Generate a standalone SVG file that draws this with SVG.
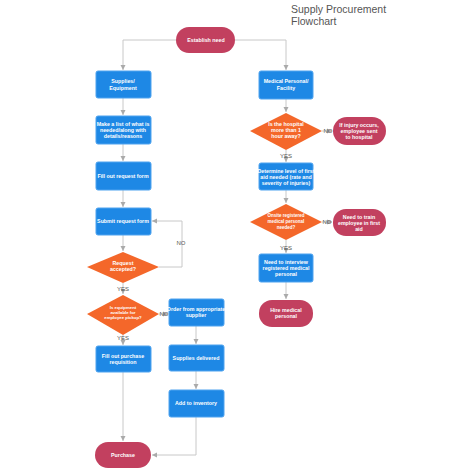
<svg xmlns="http://www.w3.org/2000/svg" width="474" height="474" viewBox="0 0 474 474">
<defs>
<marker id="a" markerWidth="6" markerHeight="6" refX="5" refY="3" orient="auto" markerUnits="userSpaceOnUse"><path d="M0,0.5 L5,3 L0,5.5 Z" fill="#aaa"/></marker>
<style>
.b{fill:#1e88e5;stroke:#4fa3ef;stroke-width:1}
.d{fill:#f4672a}
.t{fill:#c2405f}
.w{fill:#fff;font-family:"Liberation Sans",Arial,sans-serif;font-size:5.3px;text-anchor:middle;font-weight:bold}
.l{fill:#555;font-family:"Liberation Sans",Arial,sans-serif;font-size:6px;text-anchor:middle}
.c{fill:none;stroke:#c8c8c8;stroke-width:1;marker-end:url(#a)}
</style>
</defs>
<rect width="474" height="474" fill="#fff"/>
<text x="291" y="13" font-family="Liberation Sans,Arial,sans-serif" font-size="10.5" fill="#555">Supply Procurement</text>
<text x="291" y="25" font-family="Liberation Sans,Arial,sans-serif" font-size="10.5" fill="#555">Flowchart</text>
<g id="connectors">
<path class="c" d="M176,40 H123 V70"/>
<path class="c" d="M235,40 H286 V70"/>
<path class="c" d="M123,98 V115"/>
<path class="c" d="M123,144 V161"/>
<path class="c" d="M123,190 V207"/>
<path class="c" d="M123,235 V251"/>
<path class="c" d="M159,267 H182 V221 H152"/>
<path class="c" d="M123,283 V294"/>
<path class="c" d="M159,314 H168"/>
<path class="c" d="M123,335 V345"/>
<path class="c" d="M123,372 V441"/>
<path class="c" d="M196,326 V344"/>
<path class="c" d="M196,371 V389"/>
<path class="c" d="M196,417 V455 H152"/>
<path class="c" d="M286,99 V112"/>
<path class="c" d="M322,131 H332"/>
<path class="c" d="M286,150 V162"/>
<path class="c" d="M286,190 V203"/>
<path class="c" d="M322,222 H332"/>
<path class="c" d="M286,240 V253"/>
<path class="c" d="M286,282 V299"/>
<text class="l" x="181" y="245">NO</text>
<text class="l" x="123" y="291">YES</text>
<text class="l" x="164" y="316">NO</text>
<text class="l" x="123" y="340">YES</text>
<text class="l" x="328" y="133">NO</text>
<text class="l" x="286" y="158">YES</text>
<text class="l" x="327" y="224">NO</text>
<text class="l" x="286" y="250">YES</text>
</g>
<g id="establish"><rect class="t" x="176" y="27" width="59" height="26" rx="13"/><text class="w" x="206" y="42">Establish need</text></g>
<g id="supplies"><rect class="b" x="96" y="71" width="55" height="27" rx="2"/><text class="w" x="123" y="83">Supplies/</text><text class="w" x="123" y="90">Equipment</text></g>
<g id="makelist"><rect class="b" x="96" y="116" width="55" height="28" rx="2"/><text class="w" x="123" y="126">Make a list of what is</text><text class="w" x="123" y="132">needed/along with</text><text class="w" x="123" y="138">details/reasons</text></g>
<g id="fillreq"><rect class="b" x="96" y="162" width="55" height="28" rx="2"/><text class="w" x="123" y="178">Fill out request form</text></g>
<g id="submit"><rect class="b" x="96" y="208" width="55" height="27" rx="2"/><text class="w" x="123" y="223">Submit request form</text></g>
<g id="accepted"><polygon class="d" points="123,252 159,267 123,283 87,267"/><text class="w" x="123" y="265">Request</text><text class="w" x="123" y="271">accepted?</text></g>
<g id="pickup"><polygon class="d" points="123,295 159,314 123,335 87,314"/><text class="w" x="123" y="309" style="font-size:4.3px">Is equipment</text><text class="w" x="123" y="314" style="font-size:4.3px">available for</text><text class="w" x="123" y="319" style="font-size:4.3px">employee pickup?</text></g>
<g id="purchreq"><rect class="b" x="96" y="346" width="55" height="26" rx="2"/><text class="w" x="123" y="358">Fill out purchase</text><text class="w" x="123" y="364">requisition</text></g>
<g id="purchase"><rect class="t" x="95" y="442" width="56" height="26" rx="13"/><text class="w" x="123" y="457">Purchase</text></g>
<g id="order"><rect class="b" x="169" y="299" width="55" height="27" rx="2"/><text class="w" x="196" y="311">Order from appropriate</text><text class="w" x="196" y="317">supplier</text></g>
<g id="delivered"><rect class="b" x="169" y="345" width="55" height="26" rx="2"/><text class="w" x="196" y="360">Supplies delivered</text></g>
<g id="inventory"><rect class="b" x="169" y="390" width="55" height="27" rx="2"/><text class="w" x="196" y="405">Add to inventory</text></g>
<g id="medical"><rect class="b" x="259" y="71" width="54" height="28" rx="2"/><text class="w" x="286" y="83">Medical Personal/</text><text class="w" x="286" y="90">Facility</text></g>
<g id="hospital"><polygon class="d" points="286,113 322,131 286,150 250,131"/><text class="w" x="286" y="126">Is the hospital</text><text class="w" x="286" y="132">more than 1</text><text class="w" x="286" y="138">hour away?</text></g>
<g id="injury"><rect class="t" x="333" y="117" width="53" height="28" rx="14"/><text class="w" x="359" y="127">If injury occurs,</text><text class="w" x="359" y="133">employee sent</text><text class="w" x="359" y="139">to hospital</text></g>
<g id="determine"><rect class="b" x="259" y="163" width="54" height="27" rx="2"/><text class="w" x="286" y="173">Determine level of first</text><text class="w" x="286" y="179">aid needed (rate and</text><text class="w" x="286" y="185">severity of injuries)</text></g>
<g id="onsite"><polygon class="d" points="286,204 322,222 286,240 250,222"/><text class="w" x="286" y="217" style="font-size:4.5px">Onsite registered</text><text class="w" x="286" y="223" style="font-size:4.5px">medical personal</text><text class="w" x="286" y="229" style="font-size:4.5px">needed?</text></g>
<g id="train"><rect class="t" x="333" y="209" width="53" height="27" rx="13"/><text class="w" x="359" y="219">Need to train</text><text class="w" x="359" y="225">employee in first</text><text class="w" x="359" y="231">aid</text></g>
<g id="interview"><rect class="b" x="259" y="254" width="54" height="28" rx="2"/><text class="w" x="286" y="264">Need to interview</text><text class="w" x="286" y="270">registered medical</text><text class="w" x="286" y="276">personal</text></g>
<g id="hire"><rect class="t" x="259" y="300" width="54" height="27" rx="13"/><text class="w" x="286" y="312">Hire medical</text><text class="w" x="286" y="318">personal</text></g>
</svg>
